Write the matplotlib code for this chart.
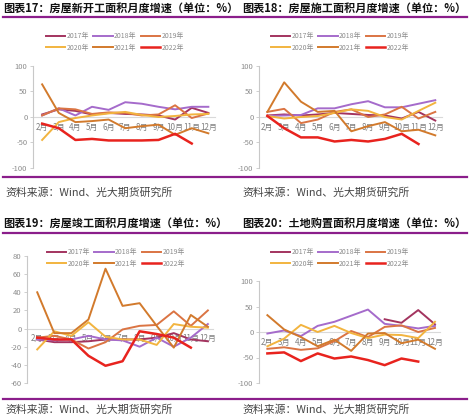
import numpy as np
import matplotlib
matplotlib.use("Agg")
import matplotlib.pyplot as plt
from matplotlib.lines import Line2D

plt.rcParams["font.family"] = ["Noto Sans CJK SC", "DejaVu Sans"]
plt.rcParams["axes.unicode_minus"] = False

nan = np.nan
months = ["2月", "3月", "4月", "5月", "6月", "7月", "8月", "9月", "10月", "11月", "12月"]
years = ["2017年", "2018年", "2019年", "2020年", "2021年", "2022年"]
colors = ["#A3345F", "#A56BCB", "#DB7443", "#F2B43F", "#D27A2C", "#E8231E"]

# 图表17 新开工面积
new_start = [
    [5, 15, 12, 5, 8, 6, 5, 3, -5, 18, 8],
    [3, 17, 3, 20, 14, 29, 26, 20, 15, 20, 20],
    [3, 17, 15, 6, 9, 8, 3, 5, 23, -2, 7],
    [-45, -10, -2, 3, 7, 10, 4, 0, 2, 5, 6],
    [64, 8, -10, -8, -5, -22, -18, -15, -35, -22, -32],
    [-13, -22, -45, -43, -46, -46, -46, -45, -33, -52, nan],
]
# 图表18 施工面积
under_constr = [
    [3, 5, 3, 5, 8, 6, 4, 3, -3, 10, -7],
    [2, 3, 4, 17, 17, 25, 31, 19, 19, 26, 33],
    [10, 16, -12, -5, 10, 15, 0, 5, 20, -3, 10],
    [2, -3, 0, 2, 8, 15, 12, 0, -5, 12, 28],
    [10, 68, 30, 10, 12, -28, -18, -10, -28, -25, -36],
    [2, -22, -40, -40, -48, -45, -48, -43, -33, -53, nan],
]
# 图表19 竣工面积
completed = [
    [-12, -15, -15, -14, -12, -12, -12, -10, -5, -12, -14],
    [-12, -13, -12, -8, -12, -13, -20, -10, -20, -10, 5],
    [-10, -8, -12, -22, -15, -1, 3, 4, 19, 3, 20],
    [-23, -3, -8, 7, -9, -12, -12, -18, 5, 2, 1],
    [40, -5, -5, 10, 66, 25, 28, 3, -21, 15, 2],
    [-10, -12, -12, -30, -41, -36, -3, -6, -10, -21, nan],
]
# 图表20 土地购置面积
land = [
    [nan, nan, nan, nan, nan, nan, nan, 25, 18, 43, 15],
    [-3, 3, -8, 12, 20, 32, 44, 16, 12, 7, 12],
    [-33, -30, -35, -32, -18, 2, -10, 10, 13, 0, 8],
    [-28, -13, 14, 0, 12, -2, -12, -5, -6, -12, 20],
    [33, 5, -10, -28, -15, -37, -3, -2, -22, -15, -33],
    [-42, -40, -57, -42, -52, -48, -55, -65, -52, -58, nan],
]

titles = [
    "图表17：房屋新开工面积月度增速（单位：%）",
    "图表18：房屋施工面积月度增速（单位：%）",
    "图表19：房屋竣工面积月度增速（单位：%）",
    "图表20：土地购置面积月度增速（单位：%）",
]
source = "资料来源：Wind、光大期货研究所"

W, H = 474, 417
fig = plt.figure(figsize=(W / 100, H / 100), dpi=100)


def fx(px):
    return px / W


def fy(py):
    return 1 - py / H


purple = "#8B1E8B"
# header / footer for each row of panels
for x0, x1, ty, ly, fly, sy, title_l, title_r in [
    (3, 242, 8, 17, 176.5, 193, titles[0], titles[1]),
    (3, 242, 223, 232.5, 398.5, 410, titles[2], titles[3]),
]:
    fig.text(fx(x0), fy(ty), title_l, fontsize=8, fontweight="bold", va="center", color="#111111")
    fig.text(fx(x1), fy(ty), title_r, fontsize=8, fontweight="bold", va="center", color="#111111")
    for yy in (ly, fly):
        fig.add_artist(Line2D([fx(3), fx(467)], [fy(yy), fy(yy)], color=purple, lw=1.6))
    fig.text(fx(5), fy(sy), source, fontsize=7.8, va="center", color="#444444")
    fig.text(fx(242), fy(sy), source, fontsize=7.8, va="center", color="#444444")

# axes boxes in pixels: left, right, top, bottom, ylim, yticks, xlim, legend center
panels = [
    (new_start, 33, 215, 66, 168, (-100, 100), [-100, -50, 0, 50, 100], (-0.55, 10.4), (115, 42)),
    (under_constr, 259, 442, 66, 168, (-100, 100), [-100, -50, 0, 50, 100], (-0.5, 10.4), (340, 42)),
    (completed, 27, 213, 256, 383, (-60, 80), [-60, -40, -20, 0, 20, 40, 60, 80], (-0.6, 10.3), (116, 258)),
    (land, 259, 440, 281, 383, (-100, 100), [-100, -50, 0, 50, 100], (-0.5, 10.3), (340, 258)),
]

# legend is filled column by column, so reorder to read row by row
leg_order = [0, 3, 1, 4, 2, 5]

x = np.arange(len(months))
for data, l, r, t, b, ylim, yticks, xlim, leg in panels:
    ax = fig.add_axes([fx(l), fy(b), (r - l) / W, (b - t) / H])
    ax.patch.set_alpha(0)
    lines = []
    for i, (yr, c) in enumerate(zip(years, colors)):
        lw = 1.8 if i == 5 else 1.4
        ln, = ax.plot(x, data[i], color=c, lw=lw, label=yr, zorder=3 + i * 0.1)
        lines.append(ln)
    ax.set_xlim(*xlim)
    ax.set_ylim(*ylim)
    ax.set_yticks(yticks)
    ax.set_xticks(x)
    ax.set_xticklabels(months)
    ax.spines["top"].set_visible(False)
    ax.spines["right"].set_visible(False)
    ax.spines["bottom"].set_position(("data", 0))
    ax.spines["bottom"].set_color("#D9D9D9")
    ax.spines["bottom"].set_zorder(1)
    ax.spines["left"].set_color("#C8C8C8")
    ax.tick_params(axis="x", length=0, labelsize=5.8, labelcolor="#7F7F7F", pad=4)
    ax.tick_params(axis="y", length=2, width=0.6, color="#C8C8C8", labelsize=5.5,
                   labelcolor="#8C8C8C", pad=2)
    ax.legend([lines[k] for k in leg_order], [years[k] for k in leg_order],
              loc="center", bbox_to_anchor=(fx(leg[0]), fy(leg[1])),
              bbox_transform=fig.transFigure, ncol=3, frameon=False, fontsize=5,
              labelcolor="#8C8C8C", handlelength=2.8, handletextpad=0.2,
              columnspacing=0.6, labelspacing=0.5)

fig.savefig("out.png", dpi=100)
